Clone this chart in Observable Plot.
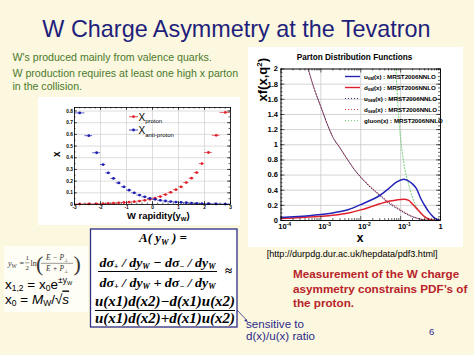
<!DOCTYPE html>
<html><head><meta charset="utf-8">
<script src="https://cdn.jsdelivr.net/npm/d3@7"></script>
<script src="https://cdn.jsdelivr.net/npm/@observablehq/plot@0.6"></script>
<style>
html,body{margin:0;padding:0;background:#fcf7df;}
#slide{position:relative;width:474px;height:355px;overflow:hidden;background:#fcf7df;font-family:"Liberation Sans",Arial,sans-serif;}
.panel{position:absolute;background:#fff;}
#overlay{position:absolute;left:0;top:0;}
</style></head>
<body>
<div id="slide">
 <div class="panel" id="panelL" style="left:38px;top:97px;width:202px;height:128px"></div>
 <div class="panel" id="panelR" style="left:248px;top:47px;width:215px;height:200px"></div>
 <svg id="overlay" width="474" height="355" font-family="Liberation Sans, Arial, sans-serif">
  <text x="236.5" y="37.3" text-anchor="middle" font-size="23.4" fill="#1f1f7c">W Charge Asymmetry at the Tevatron</text>
  <g fill="#4a7a2c" font-size="10.6">
   <text x="12.5" y="60.5">W's produced mainly from valence quarks.</text>
   <text x="12.5" y="77">W production requires at least one high x parton</text>
   <text x="12.5" y="89.5">in the collision.</text>
  </g>
  <!-- left chart labels and legend -->
  <text x="158.3" y="218.8" text-anchor="middle" font-size="9.4" font-weight="bold">W rapidity(y<tspan font-size="6" dy="2">W</tspan><tspan dy="-2">)</tspan></text>
  <text transform="translate(60,154.3) rotate(-90)" text-anchor="middle" font-size="10" font-weight="bold">x</text>
  <line x1="129" x2="138" y1="116.7" y2="116.7" stroke="#e0202a" stroke-width="0.8"/>
  <circle cx="133.5" cy="116.7" r="1.4" fill="#e0202a"/>
  <text x="138.5" y="120.5" font-size="10">X<tspan font-size="6" dy="2.5">proton</tspan></text>
  <line x1="129" x2="138" y1="130" y2="130" stroke="#1c1cb0" stroke-width="0.8"/>
  <circle cx="133.5" cy="130" r="1.4" fill="#1c1cb0"/>
  <text x="138.5" y="134" font-size="10">X<tspan font-size="6" dy="2.5">anti-proton</tspan></text>
  <!-- right chart labels and legend -->
  <text x="354.5" y="59.5" text-anchor="middle" font-size="8.2" font-weight="bold">Parton Distribution Functions</text>
  <text transform="translate(267,58) rotate(-90)" text-anchor="end" font-size="13" font-weight="bold">xf(x,q<tspan font-size="8" dy="-5">2</tspan><tspan dy="5">)</tspan></text>
  <text x="360" y="242" text-anchor="middle" font-size="12" font-weight="bold">x</text>
  <g font-size="6.2" font-weight="bold">
   <line x1="345" x2="360" y1="76.5" y2="76.5" stroke="#2424b8" stroke-width="1.4"/>
   <text x="364" y="78.7">u<tspan font-size="4.5" dy="1.5">val</tspan><tspan dy="-1.5">(x) : MRST2006NNLO</tspan></text>
   <line x1="345" x2="360" y1="87.5" y2="87.5" stroke="#e0202c" stroke-width="1.4"/>
   <text x="364" y="89.7">d<tspan font-size="4.5" dy="1.5">val</tspan><tspan dy="-1.5">(x) : MRST2006NNLO</tspan></text>
   <line x1="345" x2="360" y1="98.5" y2="98.5" stroke="#2a2a6a" stroke-width="1" stroke-dasharray="1,2"/>
   <text x="364" y="100.7">u<tspan font-size="4.5" dy="1.5">sea</tspan><tspan dy="-1.5">(x) : MRST2006NNLO</tspan></text>
   <line x1="345" x2="360" y1="109.5" y2="109.5" stroke="#d84040" stroke-width="1" stroke-dasharray="1,2"/>
   <text x="364" y="111.7">d<tspan font-size="4.5" dy="1.5">sea</tspan><tspan dy="-1.5">(x) : MRST2006NNLO</tspan></text>
   <line x1="345" x2="360" y1="120.7" y2="120.7" stroke="#5cc85c" stroke-width="1" stroke-dasharray="1,2"/>
   <text x="364" y="122.9">gluon(x) : MRST2006NNLO</text>
  </g>
  <text x="266.7" y="256.5" font-size="9.1">[http://durpdg.dur.ac.uk/hepdata/pdf3.html]</text>
  <g fill="#b8232a" font-size="11.7" font-weight="bold">
   <text x="293" y="278.3">Measurement of the W charge</text>
   <text x="293" y="292.8">asymmetry constrains PDF’s of</text>
   <text x="293" y="307">the proton.</text>
  </g>
  <g fill="#2a2a8a" font-size="11.6">
   <text x="246" y="327.5">sensitive to</text>
   <text x="246" y="340.2">d(x)/u(x) ratio</text>
  </g>
  <text x="431.7" y="335" text-anchor="middle" font-size="9.5" fill="#2a2a8a">6</text>
  <!-- left formulas -->
  <rect x="4" y="246" width="84" height="66" fill="#fffef6"/>
  <g font-family="Liberation Serif, Times New Roman, serif" fill="#333">
   <text x="8" y="266" font-style="italic" font-size="8">y<tspan font-size="5.5" dy="1.5" font-style="normal">W</tspan></text>
   <text x="19.5" y="266" font-size="8">=</text>
   <text x="27.2" y="260" text-anchor="middle" font-size="7">1</text>
   <line x1="25" x2="29.5" y1="262.8" y2="262.8" stroke="#333" stroke-width="0.5"/>
   <text x="27.2" y="269.5" text-anchor="middle" font-size="7">2</text>
   <text x="30.5" y="266" font-size="8">ln</text>
   <text x="36" y="270.5" font-size="22" font-weight="normal">(</text>
   <text x="57" y="260" text-anchor="middle" font-size="7.5" font-style="italic">E − P<tspan font-size="5" dy="1.5" font-style="normal">⊥</tspan></text>
   <line x1="41" x2="73" y1="263.3" y2="263.3" stroke="#333" stroke-width="0.5"/>
   <text x="57" y="271" text-anchor="middle" font-size="7.5" font-style="italic">E + P<tspan font-size="5" dy="1.5" font-style="normal">⊥</tspan></text>
   <text x="73.5" y="270.5" font-size="22">)</text>
  </g>
  <g font-size="13.5" fill="#000">
   <text x="5" y="288.5">x<tspan font-size="8.5" dy="2.5">1,2</tspan><tspan dy="-2.5"> = x</tspan><tspan font-size="8.5" dy="2.5">0</tspan><tspan dy="-2.5">e</tspan><tspan font-size="8.5" dy="-5.5">±y</tspan><tspan font-size="5.5" dy="2">W</tspan></text>
   <text x="5" y="303.5">x<tspan font-size="8.5" dy="2.5">0</tspan><tspan dy="-2.5"> = </tspan><tspan font-style="italic">M</tspan><tspan font-size="8.5" dy="2.5">W</tspan><tspan dy="-2.5">/√</tspan><tspan font-style="italic" text-decoration="overline">s</tspan></text>
  </g>
  <!-- asymmetry box -->
  <rect x="90.5" y="229" width="146.5" height="98" fill="#fff" stroke="#2d2d85" stroke-width="1.3"/>
  <g font-family="Liberation Serif, Times New Roman, serif" font-weight="bold" font-style="italic" fill="#000">
   <text x="163" y="242" text-anchor="middle" font-size="13">A( y<tspan font-size="8.5" dy="2.5">W</tspan><tspan dy="-2.5"> ) =</tspan></text>
   <text x="157.5" y="266.5" text-anchor="middle" font-size="13.5" textLength="116" lengthAdjust="spacingAndGlyphs">dσ<tspan font-size="8" dy="2">+</tspan><tspan dy="-2"> / dy</tspan><tspan font-size="8" dy="2">W</tspan><tspan dy="-2"> − dσ</tspan><tspan font-size="8" dy="2">−</tspan><tspan dy="-2"> / dy</tspan><tspan font-size="8" dy="2">W</tspan></text>
   <line x1="98" x2="217" y1="271.5" y2="271.5" stroke="#000" stroke-width="1.1"/>
   <text x="157.5" y="286.5" text-anchor="middle" font-size="13.5" textLength="116" lengthAdjust="spacingAndGlyphs">dσ<tspan font-size="8" dy="2">+</tspan><tspan dy="-2"> / dy</tspan><tspan font-size="8" dy="2">W</tspan><tspan dy="-2"> + dσ</tspan><tspan font-size="8" dy="2">−</tspan><tspan dy="-2"> / dy</tspan><tspan font-size="8" dy="2">W</tspan></text>
   <text x="228.5" y="275" text-anchor="middle" font-size="13" font-style="normal">≈</text>
   <text x="165" y="305.5" text-anchor="middle" font-size="14" textLength="140" lengthAdjust="spacingAndGlyphs">u(x1)d(x2)−d(x1)u(x2)</text>
   <line x1="95" x2="235" y1="310.5" y2="310.5" stroke="#000" stroke-width="1.1"/>
   <text x="165" y="322.5" text-anchor="middle" font-size="14" textLength="140" lengthAdjust="spacingAndGlyphs">u(x1)d(x2)+d(x1)u(x2)</text>
  </g>
  <line x1="237" y1="310" x2="246.5" y2="320" stroke="#2a2a8a" stroke-width="0.8"/>
  <path d="M248,322 l-3.8,-1 l1.8,-2 z" fill="#2a2a8a"/>
 </svg>
</div>
<script>
// ---- Left chart: parton x vs W rapidity ----
const rapidityBinEdges = [-3,-2.6,-2.3,-2.0,-1.8,-1.6,-1.4,-1.2,-1.0,-0.8,-0.6,-0.4,-0.2,0,0.2,0.4,0.6,0.8,1.0,1.2,1.4,1.6,1.8,2.0,2.3,2.6,3];
const xProton = [0.004,0.005,0.006,0.007,0.009,0.011,0.014,0.017,0.020,0.024,0.029,0.036,0.044,0.054,0.068,0.085,0.104,0.127,0.151,0.188,0.225,0.273,0.350,0.445,0.592,0.788];
const xAntiProton = [0.784,0.589,0.443,0.342,0.271,0.223,0.185,0.151,0.123,0.100,0.081,0.066,0.053,0.044,0.036,0.030,0.025,0.021,0.018,0.015,0.012,0.010,0.008,0.007,0.005,0.004];
const rapidityTicks = [-3,-2,-1,0,1,2,3];
const xTicks = [0,0.1,0.2,0.3,0.4,0.5,0.6,0.7,0.8];

// ---- Right chart: parton distribution functions ----
const valX   = [1e-4,2e-4,5e-4,1e-3,2e-3,5e-3,1e-2,2e-2,3e-2,5e-2,8e-2,0.12,0.16,0.2,0.25,0.32,0.4,0.5,0.6,0.7,0.85,1];
const uVal   = [0.04,0.048,0.062,0.078,0.1,0.145,0.21,0.28,0.33,0.42,0.51,0.545,0.52,0.48,0.42,0.29,0.2,0.12,0.07,0.035,0.01,0];
const dVal   = [0.028,0.034,0.045,0.056,0.07,0.1,0.14,0.19,0.22,0.255,0.272,0.28,0.265,0.215,0.16,0.1,0.05,0.02,0.008,0.003,0.001,0];
const seaX   = [4.8e-4,7e-4,1e-3,1.5e-3,2e-3,3e-3,5e-3,7e-3,1e-2,2e-2,3e-2,5e-2,8e-2,0.12,0.16,0.2,0.3,0.4,0.5,0.7,1];
const uSea   = [2.0,1.72,1.5,1.25,1.1,0.96,0.78,0.67,0.57,0.41,0.33,0.23,0.16,0.105,0.07,0.048,0.02,0.008,0.003,0.0005,0];
const dSea   = [2.0,1.72,1.5,1.25,1.1,0.96,0.78,0.67,0.575,0.42,0.34,0.245,0.175,0.115,0.078,0.053,0.022,0.009,0.003,0.0005,0];
const gluonX = [0.076,0.085,0.095,0.11,0.13,0.16,0.2,0.25,0.3,0.4,0.5,0.7,1];
const gluon  = [2.0,1.55,1.2,0.9,0.66,0.47,0.3,0.18,0.11,0.04,0.015,0.002,0];
const pdfDecades = [1e-4,1e-3,1e-2,1e-1,1];
const pdfExponents = ["-4","-3","-2","-1"];
const pdfYTicks = [0,0.2,0.4,0.6,0.8,1,1.2,1.4,1.6,1.8,2];

const RED = "#e0202a", BLUE = "#1c1cb0";

// left chart
const LW = 202, LH = 128, LML = 36, LMR = 10, LMT = 10, LMB = 21;
const LFW = LW - LML - LMR, LFH = LH - LMT - LMB;
const rows = rapidityBinEdges.slice(0, -1).map((lo, i) => ({
  lo, hi: rapidityBinEdges[i + 1], c: (lo + rapidityBinEdges[i + 1]) / 2,
  p: xProton[i], a: xAntiProton[i]
}));
const xMinor = d3.range(-3, 3.001, 0.2).map(v => +v.toFixed(2));
const yMinorL = d3.range(0, 0.8301, 0.05).map(v => +v.toFixed(3));
const tickStyle = {stroke: "#000", strokeWidth: 0.6};

const left = Plot.plot({
  width: LW, height: LH, marginLeft: LML, marginRight: LMR, marginTop: LMT, marginBottom: LMB,
  x: {domain: [-3, 3]},
  y: {domain: [0, 0.83]},
  style: {fontFamily: "Liberation Sans, Arial, sans-serif", fontSize: "4.8px", fontWeight: "bold", background: "#fff", color: "#000"},
  marks: [
    Plot.gridX({ticks: rapidityTicks, stroke: "#cfcfcf", strokeOpacity: 1, strokeWidth: 0.7}),
    Plot.gridY({ticks: xTicks, stroke: "#cfcfcf", strokeOpacity: 1, strokeWidth: 0.7}),
    Plot.ruleY(rows, {y: "p", x1: "lo", x2: "hi", stroke: RED, strokeWidth: 0.7}),
    Plot.ruleY(rows, {y: "a", x1: "lo", x2: "hi", stroke: BLUE, strokeWidth: 0.7}),
    Plot.dot(rows, {x: "c", y: "p", r: 1.4, fill: RED, stroke: null}),
    Plot.dot(rows, {x: "c", y: "a", r: 1.4, fill: BLUE, stroke: null}),
    Plot.frame({stroke: "#000", strokeWidth: 0.8}),
    Plot.tickX(rapidityTicks, {x: d => d, insetTop: LFH - 3, ...tickStyle}),
    Plot.tickX(rapidityTicks, {x: d => d, insetBottom: LFH - 3, ...tickStyle}),
    Plot.tickX(xMinor, {x: d => d, insetTop: LFH - 1.5, ...tickStyle}),
    Plot.tickX(xMinor, {x: d => d, insetBottom: LFH - 1.5, ...tickStyle}),
    Plot.tickY(xTicks, {y: d => d, insetRight: LFW - 3, ...tickStyle}),
    Plot.tickY(xTicks, {y: d => d, insetLeft: LFW - 3, ...tickStyle}),
    Plot.tickY(yMinorL, {y: d => d, insetRight: LFW - 1.5, ...tickStyle}),
    Plot.tickY(yMinorL, {y: d => d, insetLeft: LFW - 1.5, ...tickStyle}),
    Plot.axisX({ticks: rapidityTicks, tickSize: 0, tickPadding: 1.5, tickFormat: d => String(d), label: null}),
    Plot.axisY({ticks: xTicks, tickSize: 0, tickPadding: 1.5, tickFormat: d => String(d), label: null})
  ]
});
document.getElementById("panelL").appendChild(left);

// right chart
const RW = 215, RH = 200, RML = 32.5, RMR = 23, RMT = 21.5, RMB = 27;
const RFW = RW - RML - RMR, RFH = RH - RMT - RMB;
const toRows = (xs, ys) => xs.map((x, i) => ({x, y: ys[i]}));
const minorLog = [];
for (const dec of [1e-4, 1e-3, 1e-2, 1e-1]) for (let k = 2; k <= 9; k++) minorLog.push(dec * k);
const yMinorR = d3.range(0, 2.0001, 0.05).map(v => +v.toFixed(3));
const decadesBelow1 = pdfDecades.slice(0, -1);
const dotted = {strokeWidth: 1, strokeDasharray: "1,2", curve: "monotone-x", clip: true};

const right = Plot.plot({
  width: RW, height: RH, marginLeft: RML, marginRight: RMR, marginTop: RMT, marginBottom: RMB,
  x: {type: "log", domain: [1e-4, 1], axis: null},
  y: {domain: [0, 2], axis: null},
  style: {fontFamily: "Liberation Sans, Arial, sans-serif", fontSize: "7.5px", fontWeight: "bold", background: "#fff", color: "#000"},
  marks: [
    Plot.gridX({ticks: pdfDecades, stroke: "#c8c8c8", strokeOpacity: 1, strokeWidth: 0.8}),
    Plot.gridY({ticks: pdfYTicks, stroke: "#c8c8c8", strokeOpacity: 1, strokeWidth: 0.8}),
    Plot.line(toRows(gluonX, gluon), {x: "x", y: "y", stroke: "#5cc85c", ...dotted}),
    Plot.line(toRows(seaX, dSea), {x: "x", y: "y", stroke: "#d84040", ...dotted}),
    Plot.line(toRows(seaX, uSea), {x: "x", y: "y", stroke: "#2a2a6a", ...dotted, strokeDashoffset: 1.5}),
    Plot.line(toRows(valX, dVal), {x: "x", y: "y", stroke: "#e0202c", strokeWidth: 1.5, curve: "monotone-x", clip: true}),
    Plot.line(toRows(valX, uVal), {x: "x", y: "y", stroke: "#2424b8", strokeWidth: 1.5, curve: "monotone-x", clip: true}),
    Plot.frame({stroke: "#000", strokeWidth: 0.9}),
    Plot.tickX(pdfDecades, {x: d => d, insetTop: RFH - 4, ...tickStyle}),
    Plot.tickX(pdfDecades, {x: d => d, insetBottom: RFH - 4, ...tickStyle}),
    Plot.tickX(minorLog, {x: d => d, insetTop: RFH - 2, ...tickStyle}),
    Plot.tickX(minorLog, {x: d => d, insetBottom: RFH - 2, ...tickStyle}),
    Plot.tickY(pdfYTicks, {y: d => d, insetRight: RFW - 4, ...tickStyle}),
    Plot.tickY(pdfYTicks, {y: d => d, insetLeft: RFW - 4, ...tickStyle}),
    Plot.tickY(yMinorR, {y: d => d, insetRight: RFW - 2, ...tickStyle}),
    Plot.tickY(yMinorR, {y: d => d, insetLeft: RFW - 2, ...tickStyle}),
    Plot.text(pdfYTicks, {y: d => d, text: d => String(d), frameAnchor: "left", textAnchor: "end", dx: -3, fontSize: 7.5}),
    Plot.text(decadesBelow1, {x: d => d, text: () => "10", frameAnchor: "bottom", textAnchor: "middle", dx: 1.5, dy: 8.8, fontSize: 7.5}),
    Plot.text(decadesBelow1, {x: d => d, text: (d, i) => pdfExponents[i], frameAnchor: "bottom", textAnchor: "start", dx: 5.6, dy: 5.3, fontSize: 5}),
    Plot.text([1], {x: d => d, text: () => "1", frameAnchor: "bottom", dy: 8.8, fontSize: 7.5})
  ]
});
document.getElementById("panelR").appendChild(right);
</script>
</body></html>
